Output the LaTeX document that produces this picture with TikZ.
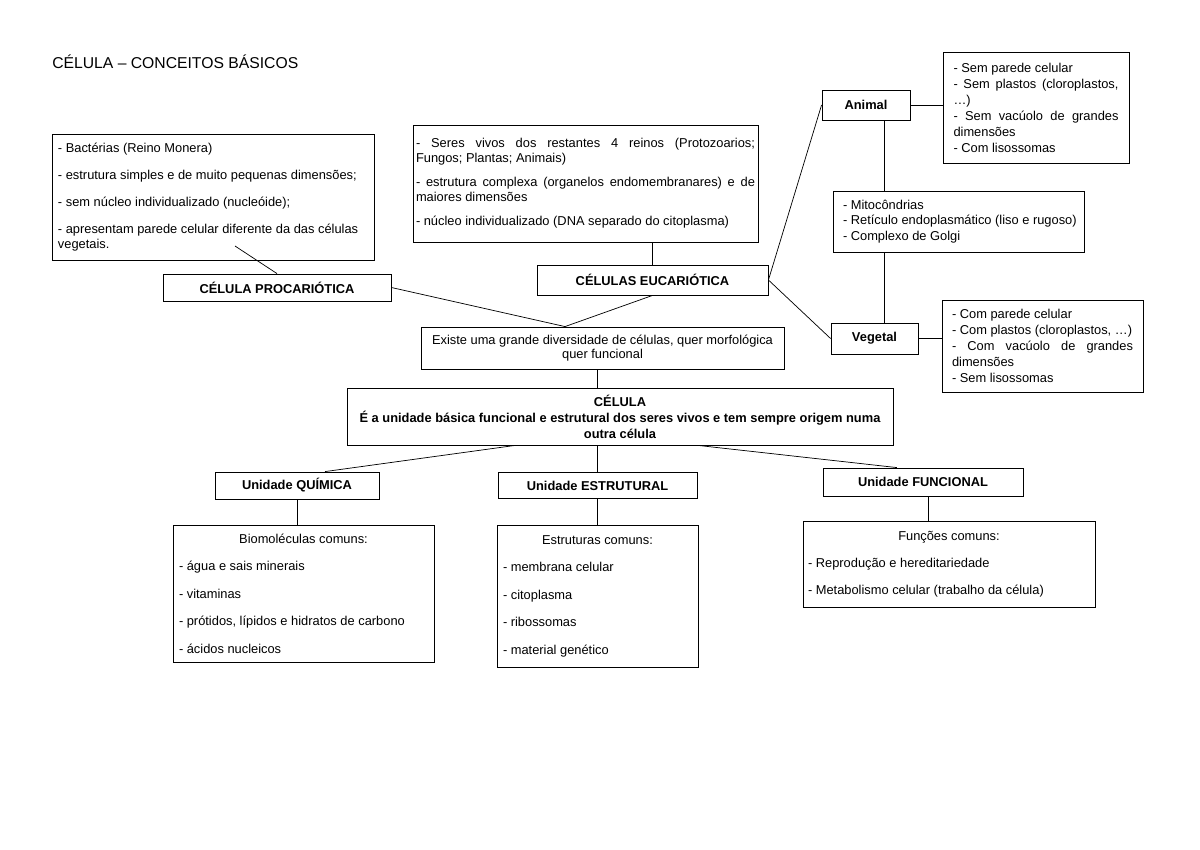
\documentclass[tikz,border=0pt]{standalone}
\usepackage{fontspec}
\setmainfont{Liberation Sans}
\usetikzlibrary{calc}
\newcommand{\jline}[1]{\makebox[\linewidth][s]{#1}}
\newcommand{\midline}[1]{\makebox[\linewidth]{#1}}
\newcommand{\boxtext}[2]{\parbox{#1}{\raggedright #2}}
\begin{document}
\begin{tikzpicture}[x=0.7pt, y=-0.7pt,
        every node/.style={font=\fontsize{9}{10}\selectfont},
        box/.style={draw, line width=0.6pt, inner ysep=0pt},
        tag/.style={draw, line width=0.6pt, inner sep=0pt, font=\fontsize{9}{10}\selectfont\bfseries},
        link/.style={line width=0.5pt}]
        \useasboundingbox (0,0) rectangle (1200,849);
        \node[anchor=west, inner sep=0pt, font=\fontsize{11}{13}\selectfont] (title) at (52,62) {CÉLULA – CONCEITOS BÁSICOS};

        \node[box, inner xsep=4.2pt, minimum height=88.2pt] (prodesc) at (213,197) {\boxtext{217pt}{- Bactérias (Reino Monera)\\[9pt]
            - estrutura simples e de muito pequenas dimensões;\\[9pt]
            - sem núcleo individualizado (nucleóide);\\[9pt]
            \mbox{- apresentam parede celular diferente da das células}\\vegetais.}};
        \node[tag, minimum width=159.6pt, minimum height=18.9pt] (proc) at (277,287.5) {CÉLULA PROCARIÓTICA};

        \node[box, inner xsep=2.1pt, minimum height=81.9pt, font=\fontsize{9}{10.5}\selectfont] (eukdesc) at (585.5,183.5) {\boxtext{237.3pt}{\jline{- Seres vivos dos restantes 4 reinos (Protozoarios;}\\Fungos; Plantas; Animais)\\[6.3pt]
            \jline{- estrutura complexa (organelos endomembranares) e de}\\maiores dimensões\\[6.3pt]
            \mbox{- núcleo individualizado (DNA separado do citoplasma)}}};
        \node[tag, minimum width=161.7pt, minimum height=21pt] (euk) at (652.5,280) {CÉLULAS EUCARIÓTICA};

        \node[tag, minimum width=61.6pt, minimum height=21pt] (anim) at (866,105) {Animal};
        \node[box, inner xsep=7.35pt, minimum height=77.7pt, font=\fontsize{9}{11.2}\selectfont] (anlist) at (1036,107.5) {\boxtext{115.5pt}{- Sem parede celular\\\jline{- Sem plastos (cloroplastos,}\\…)\\\jline{- Sem vacúolo de grandes}\\dimensões\\- Com lisossomas}};
        \node[box, inner xsep=7pt, minimum height=42.7pt, font=\fontsize{9}{10.85}\selectfont] (org) at (958.5,221.5) {\boxtext{161.7pt}{- Mitocôndrias\\\mbox{- Retículo endoplasmático (liso e rugoso)}\\- Complexo de Golgi}};
        \node[tag, minimum width=60.9pt, minimum height=21.7pt] (veg) at (874.5,338.5) {Vegetal};
        \node[box, inner xsep=7pt, minimum height=64.4pt, font=\fontsize{9}{11.2}\selectfont] (veglist) at (1042.5,346) {\boxtext{126.7pt}{- Com parede celular\\\mbox{- Com plastos (cloroplastos, …)}\\\jline{- Com vacúolo de grandes}\\dimensões\\- Sem lisossomas}};

        \node[draw, line width=0.6pt, align=center, minimum width=254.1pt, minimum height=29.4pt] (div) at (602.5,348) {Existe uma grande diversidade de células, quer morfológica\\quer funcional};
        \node[tag, align=center, minimum width=382.2pt, minimum height=39.9pt, font=\fontsize{9}{11.2}\selectfont\bfseries] (cel) at (620,416.5) {CÉLULA\\É a unidade básica funcional e estrutural dos seres vivos e tem sempre origem numa\\outra célula};

        \node[tag, minimum width=114.8pt, minimum height=18.9pt] (qui) at (297,485.5) {Unidade QUÍMICA};
        \node[tag, minimum width=139.3pt, minimum height=18.2pt] (est) at (597.5,485.5) {Unidade ESTRUTURAL};
        \node[tag, minimum width=140pt, minimum height=19.6pt] (fun) at (923,482) {Unidade FUNCIONAL};

        \node[box, inner xsep=4.2pt, minimum height=95.9pt] (bio) at (303.5,593.5) {\boxtext{174.3pt}{\midline{Biomoléculas comuns:}\\[9.5pt]
            - água e sais minerais\\[9.2pt]- vitaminas\\[9.2pt]\mbox{- prótidos, lípidos e hidratos de carbono}\\[9.2pt]- ácidos nucleicos}};
        \node[box, inner xsep=4.2pt, minimum height=99.4pt] (estr) at (597.5,596) {\boxtext{132.3pt}{\midline{Estruturas comuns:}\\[9.5pt]
            - membrana celular\\[9.2pt]- citoplasma\\[9.2pt]- ribossomas\\[9.2pt]- material genético}};
        \node[box, inner xsep=3.5pt, minimum height=60.2pt] (funbox) at (949,564) {\boxtext{197.4pt}{\midline{Funções comuns:}\\[9pt]
            - Reprodução e hereditariedade\\[9pt]\mbox{- Metabolismo celular (trabalho da célula)}}};

        \coordinate (prohook) at (235,246);
        \draw[link] (prohook) -- (proc.north);
        \coordinate (meet) at ($(div.north west)!0.397!(div.north east)$);
        \draw[link] (proc.east) -- (meet);
        \draw[link] (euk.south) -- (meet);
        \draw[link] (euk.north) -- (euk.north |- eukdesc.south);
        \draw[link] (euk.east) -- (anim.west);
        \draw[link] (euk.east) -- (veg.west);
        \foreach \a/\b in {anim/anlist, veg/veglist} {
            \draw[link] (\a.east) -- (\a.east -| \b.west);
        }
        \coordinate (spine) at ($(org.north west)!0.207!(org.north east)$);
        \draw[link] (spine |- anim.south) -- (spine);
        \draw[link] (spine |- org.south) -- (spine |- veg.north);
        \coordinate (divfoot) at ($(div.south west)!0.485!(div.south east)$);
        \draw[link] (divfoot) -- (divfoot |- cel.north);
        \draw[link] ($(cel.south west)!0.308!(cel.south east)$) -- ($(qui.north west)!0.67!(qui.north east)$);
        \draw[link] (est.north) -- (est.north |- cel.south);
        \draw[link] ($(cel.south west)!0.643!(cel.south east)$) -- ($(fun.north west)!0.37!(fun.north east)$);
        \foreach \a/\b in {qui/bio, est/estr} {
            \draw[link] (\a.south) -- (\a.south |- \b.north);
        }
        \coordinate (funfoot) at ($(funbox.north west)!0.43!(funbox.north east)$);
        \draw[link] (funfoot |- fun.south) -- (funfoot);
    \end{tikzpicture}
\end{document}
